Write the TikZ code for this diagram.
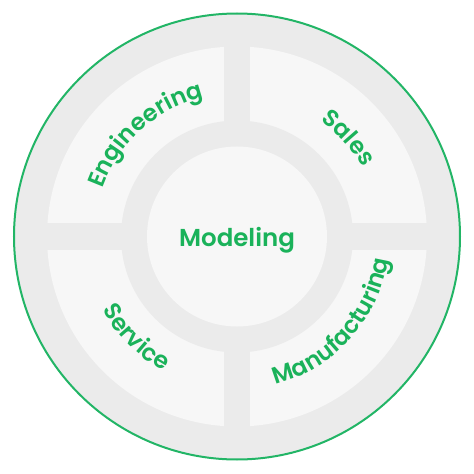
\documentclass[tikz,border=0pt]{standalone}
\usepackage{fontspec}
\setmainfont{Poppins SemiBold}
\usetikzlibrary{decorations.text}

\definecolor{ringgreen}{RGB}{34,181,102}
\definecolor{labelgreen}{RGB}{26,178,90}
\definecolor{ringgray}{RGB}{235,235,235}
\definecolor{sectorfill}{RGB}{247,247,247}
\newcommand{\ringfont}{\fontsize{23.5}{28}\selectfont\color{labelgreen}}

\begin{document}
\begin{tikzpicture}[x=1pt, y=1pt,
    outer/.style={draw=ringgreen, line width=2pt, fill=ringgray},
    sector/.style={fill=sectorfill},
    gap/.style={fill=ringgray},
    hubtext/.style={font=\fontsize{24.5}{30}\selectfont, text=labelgreen, inner sep=0pt},
    arclabel/.style={decorate, decoration={text along path, text align=center, text={|\ringfont|#1}}}
]
\useasboundingbox (-237,-237.5) rectangle (237,236.5);

% Outer ring
\path[outer] (0,0) circle (223);
\path[sector] (0,0) circle (190);

% Gaps between the departments
\path[gap] (-13,-191) rectangle (13,191);
\path[gap] (-191,-13) rectangle (191,13);
\path[gap] (0,0) circle (116);

% Center
\path[sector] (0,0) circle (90);
\node[hubtext, anchor=base] (modeling) at (0,-10.2) {Modeling};

% Top labels, clockwise
\path[arclabel=Engineering] (192:143) arc[start angle=192, end angle=72, radius=143];
\path[arclabel=Sales] (101.5:143) arc[start angle=101.5, end angle=-18.5, radius=143];

% Bottom labels, counter-clockwise
\path[arclabel=Service] (165:153) arc[start angle=165, end angle=285, radius=153];
\path[arclabel=Manufacturing] (-102:153) arc[start angle=-102, end angle=18, radius=153];

\end{tikzpicture}
\end{document}
